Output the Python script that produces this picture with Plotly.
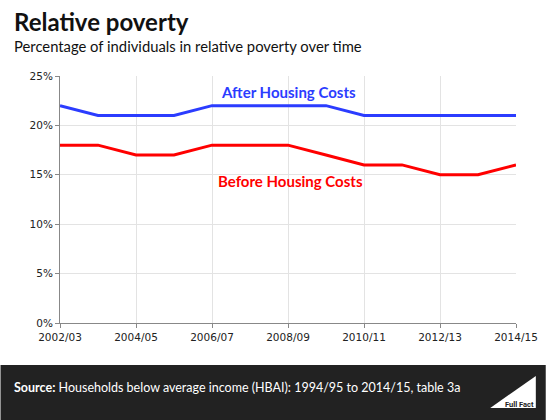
import plotly.graph_objects as go

years = ["2002/03", "2003/04", "2004/05", "2005/06", "2006/07", "2007/08", "2008/09",
         "2009/10", "2010/11", "2011/12", "2012/13", "2013/14", "2014/15"]
after_housing = [22, 21, 21, 21, 22, 22, 22, 22, 21, 21, 21, 21, 21]
before_housing = [18, 18, 17, 17, 18, 18, 18, 17, 16, 16, 15, 15, 16]
tick_years = years[::2]
y_ticks = [0, 5, 10, 15, 20, 25]

W, H = 550, 420
ML, MR, MT, MB = 60, 30, 76, 97
PW, PH = W - ML - MR, H - MT - MB

def px(x):
    return (x - ML) / PW

def py(y):
    return (H - MB - y) / PH

BLUE = "#2b3cff"
RED = "#ff0000"

fig = go.Figure()
fig.add_trace(go.Scatter(x=years, y=after_housing, mode="lines",
                         line=dict(color=BLUE, width=3), name="After Housing Costs",
                         hoverinfo="skip"))
fig.add_trace(go.Scatter(x=years, y=before_housing, mode="lines",
                         line=dict(color=RED, width=3), name="Before Housing Costs",
                         hoverinfo="skip"))

fig.update_layout(
    width=W, height=H,
    margin=dict(l=ML, r=MR, t=MT, b=MB),
    paper_bgcolor="white", plot_bgcolor="white",
    showlegend=False,
    xaxis=dict(type="category", range=[0, 12], tickmode="array",
               tickvals=tick_years, ticktext=tick_years,
               showgrid=True, gridcolor="#e3e3e3", gridwidth=1,
               showline=True, linecolor="#888", linewidth=1,
               ticks="outside", ticklen=4, tickcolor="#888",
               tickfont=dict(family="DejaVu Sans", size=10.5, color="#222"),
               zeroline=False),
    yaxis=dict(range=[0, 25], tickmode="array", tickvals=y_ticks,
               ticktext=[f"{v}%" for v in y_ticks],
               showgrid=True, gridcolor="#e3e3e3", gridwidth=1,
               showline=True, linecolor="#888", linewidth=1,
               ticks="outside", ticklen=4, tickcolor="#888",
               tickfont=dict(family="DejaVu Sans", size=10.5, color="#222"),
               zeroline=False),
)

# footer band
fig.add_shape(type="rect", xref="paper", yref="paper",
              x0=px(0), x1=px(W), y0=py(365), y1=py(H + 2),
              fillcolor="#222222", line=dict(width=0), layer="above")
# logo triangle
fig.add_shape(type="path", xref="paper", yref="paper",
              path=f"M {px(494)} {py(408)} L {px(540)} {py(376)} L {px(540)} {py(408)} Z",
              fillcolor="white", line=dict(width=0), layer="above")

ann = [
    dict(text="<b>Relative poverty</b>", x=px(12), y=py(22), xanchor="left", yanchor="middle",
         font=dict(family="Lato", size=24, color="#111")),
    dict(text="Percentage of individuals in relative poverty over time", x=px(12), y=py(46),
         xanchor="left", yanchor="middle", font=dict(family="Lato", size=14.8, color="#111")),
    dict(text="<b>After Housing Costs</b>", x=px(290), y=py(92), xanchor="center", yanchor="middle",
         font=dict(family="Lato", size=15, color=BLUE)),
    dict(text="<b>Before Housing Costs</b>", x=px(293), y=py(181), xanchor="center", yanchor="middle",
         font=dict(family="Lato", size=15, color=RED)),
    dict(text="<b>Source:</b> Households below average income (HBAI): 1994/95 to 2014/15, table 3a",
         x=px(12), y=py(387), xanchor="left", yanchor="middle",
         font=dict(family="Lato", size=12.5, color="white")),
    dict(text="<b>Full Fact</b>", x=px(540), y=py(404), xanchor="right", yanchor="middle",
         font=dict(family="Roboto", size=7.5, color="#222")),
]
for a in ann:
    a.update(xref="paper", yref="paper", showarrow=False)
    fig.add_annotation(**a)

fig.write_html("out.html")
